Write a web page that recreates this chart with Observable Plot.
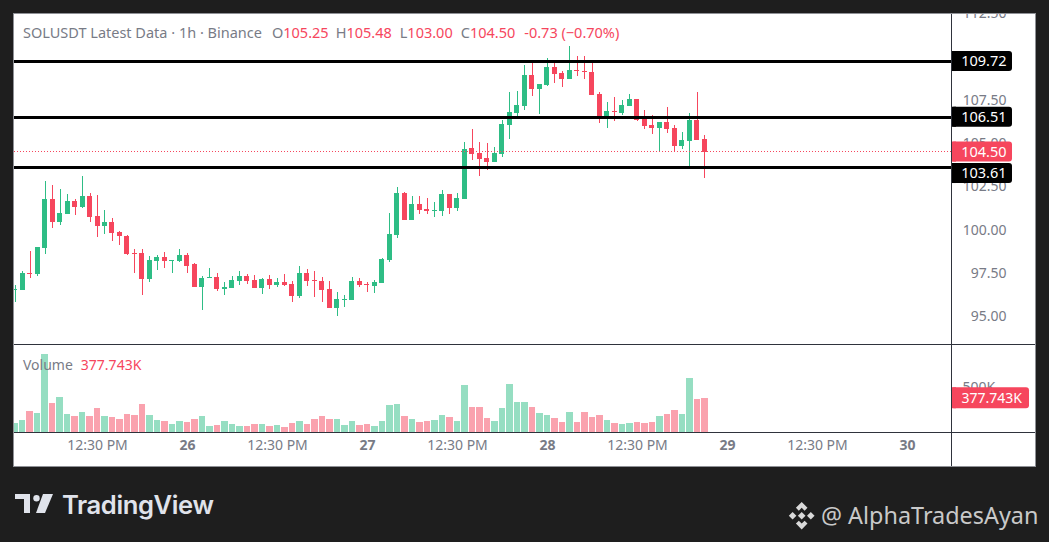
<!DOCTYPE html>
<html><head><meta charset="utf-8">
<script src="https://cdn.jsdelivr.net/npm/d3@7"></script>
<script src="https://cdn.jsdelivr.net/npm/@observablehq/plot@0.6"></script>
<style>
html,body{margin:0;padding:0;background:#1e1e1e;overflow:hidden}
#root{position:relative;width:1049px;height:542px;background:#1e1e1e;font-family:"Noto Sans",sans-serif}
#panel{position:absolute;left:13px;top:13px;width:1023px;height:454px;box-sizing:border-box;background:#fff;border:1px solid #8f9196}
.pane{position:absolute;left:14px}
.pane svg{display:block;overflow:hidden}
.rule{position:absolute;background:#2f333c}
.legend{position:absolute;left:23px;font-size:14px;color:#787b86;white-space:nowrap;line-height:20px}
.legend b{font-weight:400;color:#f6465d}
.legend span{display:inline-block}
#head{font-size:14.5px}
#tv{position:absolute;left:62px;top:489px;font:600 25.6px/32px Inter,"Noto Sans",sans-serif;color:#e0e3eb;letter-spacing:-.4px}
#credit{position:absolute;left:821px;top:499px;font-size:23.4px;line-height:32px;color:#c9c9c9;white-space:nowrap}
</style></head>
<body><div id="root">
<div id="panel"></div>
<div class="pane" id="price" style="top:14px"></div>
<div class="pane" id="volume" style="top:345px"></div>
<div class="rule" style="left:951px;top:14px;width:1px;height:452px"></div>
<div class="rule" style="left:14px;top:344px;width:1021px;height:1px"></div>
<div class="rule" style="left:14px;top:432px;width:1021px;height:1px"></div>
<div class="legend" id="head" style="top:22px"></div>
<div class="legend" id="vol" style="top:355px"></div>
<svg style="position:absolute;left:0;top:0" width="1049" height="542">
  <g fill="#e0e3eb">
    <path d="M15 494H30V513H24V499H15Z"/><circle cx="36.5" cy="498.3" r="3.2"/><path d="M43 494H53L45 513H36Z"/>
  </g>
  <g fill="#d9d9d9">
    <path d="M801.7 502L807.5 507.8 804.6 510.7 801.7 507.8 798.8 510.7 795.9 507.8Z"/>
    <path d="M801.7 529.4L795.9 523.6 798.8 520.7 801.7 523.6 804.6 520.7 807.5 523.6Z"/>
    <path d="M792.6 511.9L796.4 515.7 792.6 519.5 788.8 515.7Z"/>
    <path d="M810.8 511.9L814.6 515.7 810.8 519.5 807 515.7Z"/>
    <path d="M801.7 511.9L805.5 515.7 801.7 519.5 797.9 515.7Z"/>
  </g>
</svg>
<div id="tv">TradingView</div>
<div id="credit">@ AlphaTradesAyan</div>
</div>
<script>
const opens=[96.54,96.52,97.50,97.44,98.94,101.77,100.44,100.90,101.65,101.31,101.94,100.79,100.21,100.44,99.86,99.63,98.65,98.65,97.16,98.19,98.42,98.19,98.19,98.54,98.02,96.69,97.21,97.27,96.58,96.64,97.04,97.33,97.10,96.64,97.16,96.81,96.98,96.87,96.18,97.50,97.10,97.04,96.58,95.48,95.95,95.95,97.04,96.87,96.75,96.93,98.25,99.69,102.11,100.56,101.48,101.19,101.08,101.08,102.05,101.25,101.77,104.71,104.42,104.13,103.90,104.36,106.03,106.72,107.13,108.91,108.11,108.34,109.38,109.03,108.68,109.20,109.14,109.09,107.82,106.44,106.84,106.72,107.13,107.53,106.38,106.03,105.86,106.21,105.86,104.82,105.11,106.32,105.25];
const highs=[96.81,97.62,98.77,99.00,102.80,102.57,102.34,102.05,101.77,103.09,102.11,102.00,101.13,100.67,99.92,99.69,98.88,98.88,98.48,98.54,98.71,98.25,98.88,98.65,98.08,97.33,97.79,97.50,96.98,97.33,97.62,97.44,97.39,97.21,97.39,97.21,97.44,97.04,97.90,97.73,97.62,97.27,97.04,96.41,96.23,97.27,97.21,96.98,97.10,98.37,100.96,102.46,102.17,101.94,101.94,101.82,101.59,102.29,102.05,102.11,105.05,105.80,105.05,104.99,104.76,106.32,107.93,107.99,109.49,109.66,108.40,109.89,109.78,109.14,110.59,110.01,110.01,109.72,107.93,107.36,107.65,107.47,107.82,107.53,106.90,106.61,106.21,107.07,106.03,105.63,106.72,107.93,105.48];
const lows=[95.83,96.52,97.21,97.33,98.60,100.10,100.27,100.90,100.84,101.25,100.44,99.58,99.75,99.35,99.12,98.54,97.50,96.23,96.98,97.67,97.79,97.50,98.14,97.50,96.69,95.37,97.21,96.46,96.23,96.64,96.81,96.87,96.64,96.29,96.58,96.69,96.75,95.83,96.06,96.75,96.12,95.83,95.48,95.02,95.54,95.95,96.69,96.41,96.35,96.93,98.14,99.52,100.56,100.56,100.90,100.90,100.73,100.79,100.90,101.08,101.77,104.01,103.09,103.44,103.90,104.19,105.22,106.49,106.90,107.70,106.67,108.28,108.45,108.22,108.68,108.86,108.68,107.76,106.15,105.86,106.26,106.61,107.13,106.26,105.80,105.51,104.53,105.57,104.53,104.65,103.67,105.17,103.00];
const closes=[96.58,97.50,97.44,99.00,101.77,100.44,100.96,101.65,101.31,101.94,100.73,100.21,100.44,99.81,99.63,98.60,98.60,97.16,98.25,98.42,98.19,98.25,98.54,97.90,96.69,97.21,97.27,96.58,96.69,97.10,97.33,97.04,96.64,97.16,96.81,96.98,96.81,96.18,97.50,97.04,97.04,96.52,95.48,96.00,96.00,97.04,96.81,96.81,96.98,98.31,99.75,102.11,100.56,101.48,101.13,101.08,101.13,102.05,101.25,101.82,104.65,104.36,104.07,103.90,104.42,106.09,106.78,107.18,108.91,108.11,108.40,109.38,108.97,108.68,109.20,109.14,109.09,107.76,106.44,106.84,106.78,107.18,107.53,106.32,105.97,105.86,106.21,105.80,104.82,105.17,106.32,105.17,104.50];
const volumes=[103,136,235,213,862,323,389,202,180,224,180,268,180,169,147,202,191,312,191,136,125,92,125,114,147,180,70,81,125,92,70,70,92,92,70,81,59,103,125,92,147,180,147,147,81,125,81,92,70,125,301,312,180,147,114,125,136,191,169,125,521,279,279,158,125,268,532,334,334,279,213,191,158,114,224,114,224,169,191,136,103,92,103,114,103,114,180,202,246,202,598,367,377.743];
const levels=[109.72,106.51,103.61];
const lastPrice=104.50, lastVolume=377.743;
const priceTicks=[95,97.5,100,102.5,105,107.5,112.5];
const volumeTicks=[500];
const halfDayBars=[11,35,59,83,107];
const halfDayLabel="12:30 PM";
const dayBars=[23,47,71,95,119];
const dayLabels=["26","27","28","29","30"];
const legendName="SOLUSDT Latest Data · 1h · Binance";
const ohlcText=[["O","105.25"],["H","105.48"],["L","103.00"],["C","104.50"]];
const changeText="-0.73 (−0.70%)";

const UP="#2ebd85",DOWN="#f6465d",GREY="#787b86";
const bars=opens.map((o,i)=>({i,o,h:highs[i],l:lows[i],c:closes[i],v:volumes[i],color:closes[i]>=o?UP:DOWN}));
const font='"Noto Sans",sans-serif';
const W=1021,H1=330,H2=121,MR=84;
const xDomain=[-0.0667,124.867];
const xEnd=xDomain[1];
const pxX=7.5, pxP=17.35;
const xOpts={domain:xDomain,range:[0,W-MR]};
const priceFmt=d3.format(".2f");

// A tag on the price axis: rounded on its right side, square against the axis line.
function priceTag(values,fill,dy=0){
  const halfHeight=10/pxP;
  return [
    Plot.rect(values,{x1:()=>xEnd,x2:()=>xEnd+61/pxX,y1:d=>d-halfHeight,y2:d=>d+halfHeight,fill,rx:3,dy}),
    Plot.rect(values,{x1:()=>xEnd,x2:()=>xEnd+5/pxX,y1:d=>d-halfHeight,y2:d=>d+halfHeight,fill,dy}),
    Plot.text(values,{x:()=>xEnd+55/pxX,y:d=>d,text:priceFmt,textAnchor:"end",fill:"#fff",fontSize:14.5,dy})
  ];
}

const pricePlot=Plot.plot({
  width:W,height:H1,margin:0,marginRight:MR,
  x:{...xOpts,axis:null},
  y:{domain:[93.41,112.43],range:[H1,0],axis:null},
  style:{fontFamily:font,overflow:"hidden",background:"transparent"},
  marks:[
    Plot.axisY({ticks:priceTicks,anchor:"right",tickSize:0,tickPadding:55,textAnchor:"end",fontSize:14,fill:GREY,tickFormat:priceFmt,label:null}),
    Plot.ruleX(bars,{x:"i",y1:"l",y2:"h",stroke:"color",strokeWidth:1,shapeRendering:"crispEdges"}),
    Plot.rect(bars,{x1:d=>d.i-1/3,x2:d=>d.i+1/3,y1:"o",y2:"c",fill:"color",shapeRendering:"crispEdges"}),
    Plot.ruleY([lastPrice],{stroke:DOWN,strokeWidth:1,strokeDasharray:"1 2",shapeRendering:"crispEdges",dy:-1}),
    Plot.ruleY(levels,{stroke:"#000",strokeWidth:3,shapeRendering:"crispEdges"}),
    priceTag(levels.slice(0,2),"#000"),
    priceTag(levels.slice(2),"#000",6),
    priceTag([lastPrice],DOWN)
  ]
});
document.getElementById("price").append(pricePlot);

const volPxPerK=34.33/377.743;
const volumePlot=Plot.plot({
  width:W,height:H2,margin:0,marginRight:MR,marginBottom:34,
  x:{...xOpts,axis:null},
  y:{domain:[0,960],axis:null},
  style:{fontFamily:font,overflow:"hidden",background:"transparent"},
  marks:[
    Plot.axisY({ticks:volumeTicks,anchor:"right",tickSize:0,tickPadding:11,fontSize:14,fill:GREY,tickFormat:d=>d+"K",label:null}),
    Plot.rect(bars,{x1:d=>d.i-0.43,x2:d=>d.i+0.43,y1:0,y2:"v",fill:"color",fillOpacity:0.5,shapeRendering:"crispEdges"}),
    Plot.axisX({ticks:halfDayBars,anchor:"bottom",tickSize:0,tickPadding:8,fontSize:14,fill:GREY,tickFormat:()=>halfDayLabel,label:null}),
    Plot.axisX({ticks:dayBars,anchor:"bottom",tickSize:0,tickPadding:8,fontSize:14,fontWeight:700,fill:GREY,tickFormat:(d,i)=>dayLabels[i],label:null}),
    Plot.rect([lastVolume],{x1:()=>xEnd,x2:()=>xEnd+78/pxX,y1:d=>d-10.5/volPxPerK,y2:d=>d+10.5/volPxPerK,fill:DOWN,rx:3}),
    Plot.rect([lastVolume],{x1:()=>xEnd,x2:()=>xEnd+5/pxX,y1:d=>d-10.5/volPxPerK,y2:d=>d+10.5/volPxPerK,fill:DOWN}),
    Plot.text([lastVolume],{x:()=>xEnd+10/pxX,y:d=>d,text:d=>d3.format(".3f")(d)+"K",textAnchor:"start",fill:"#fff",fontSize:14})
  ]
});
document.getElementById("volume").append(volumePlot);

const head=document.getElementById("head");
const gaps=[10,7,8,8];
head.innerHTML=`<span>${legendName}</span>`+
  ohlcText.map((d,i)=>`<span style="margin-left:${gaps[i]}px">${d[0]}<b>${d[1]}</b></span>`).join("")+
  `<span style="margin-left:9px"><b>${changeText}</b></span>`;
document.getElementById("vol").innerHTML=`<span>Volume</span><span style="margin-left:8px"><b>${d3.format(".3f")(lastVolume)}K</b></span>`;
</script>
</body></html>
